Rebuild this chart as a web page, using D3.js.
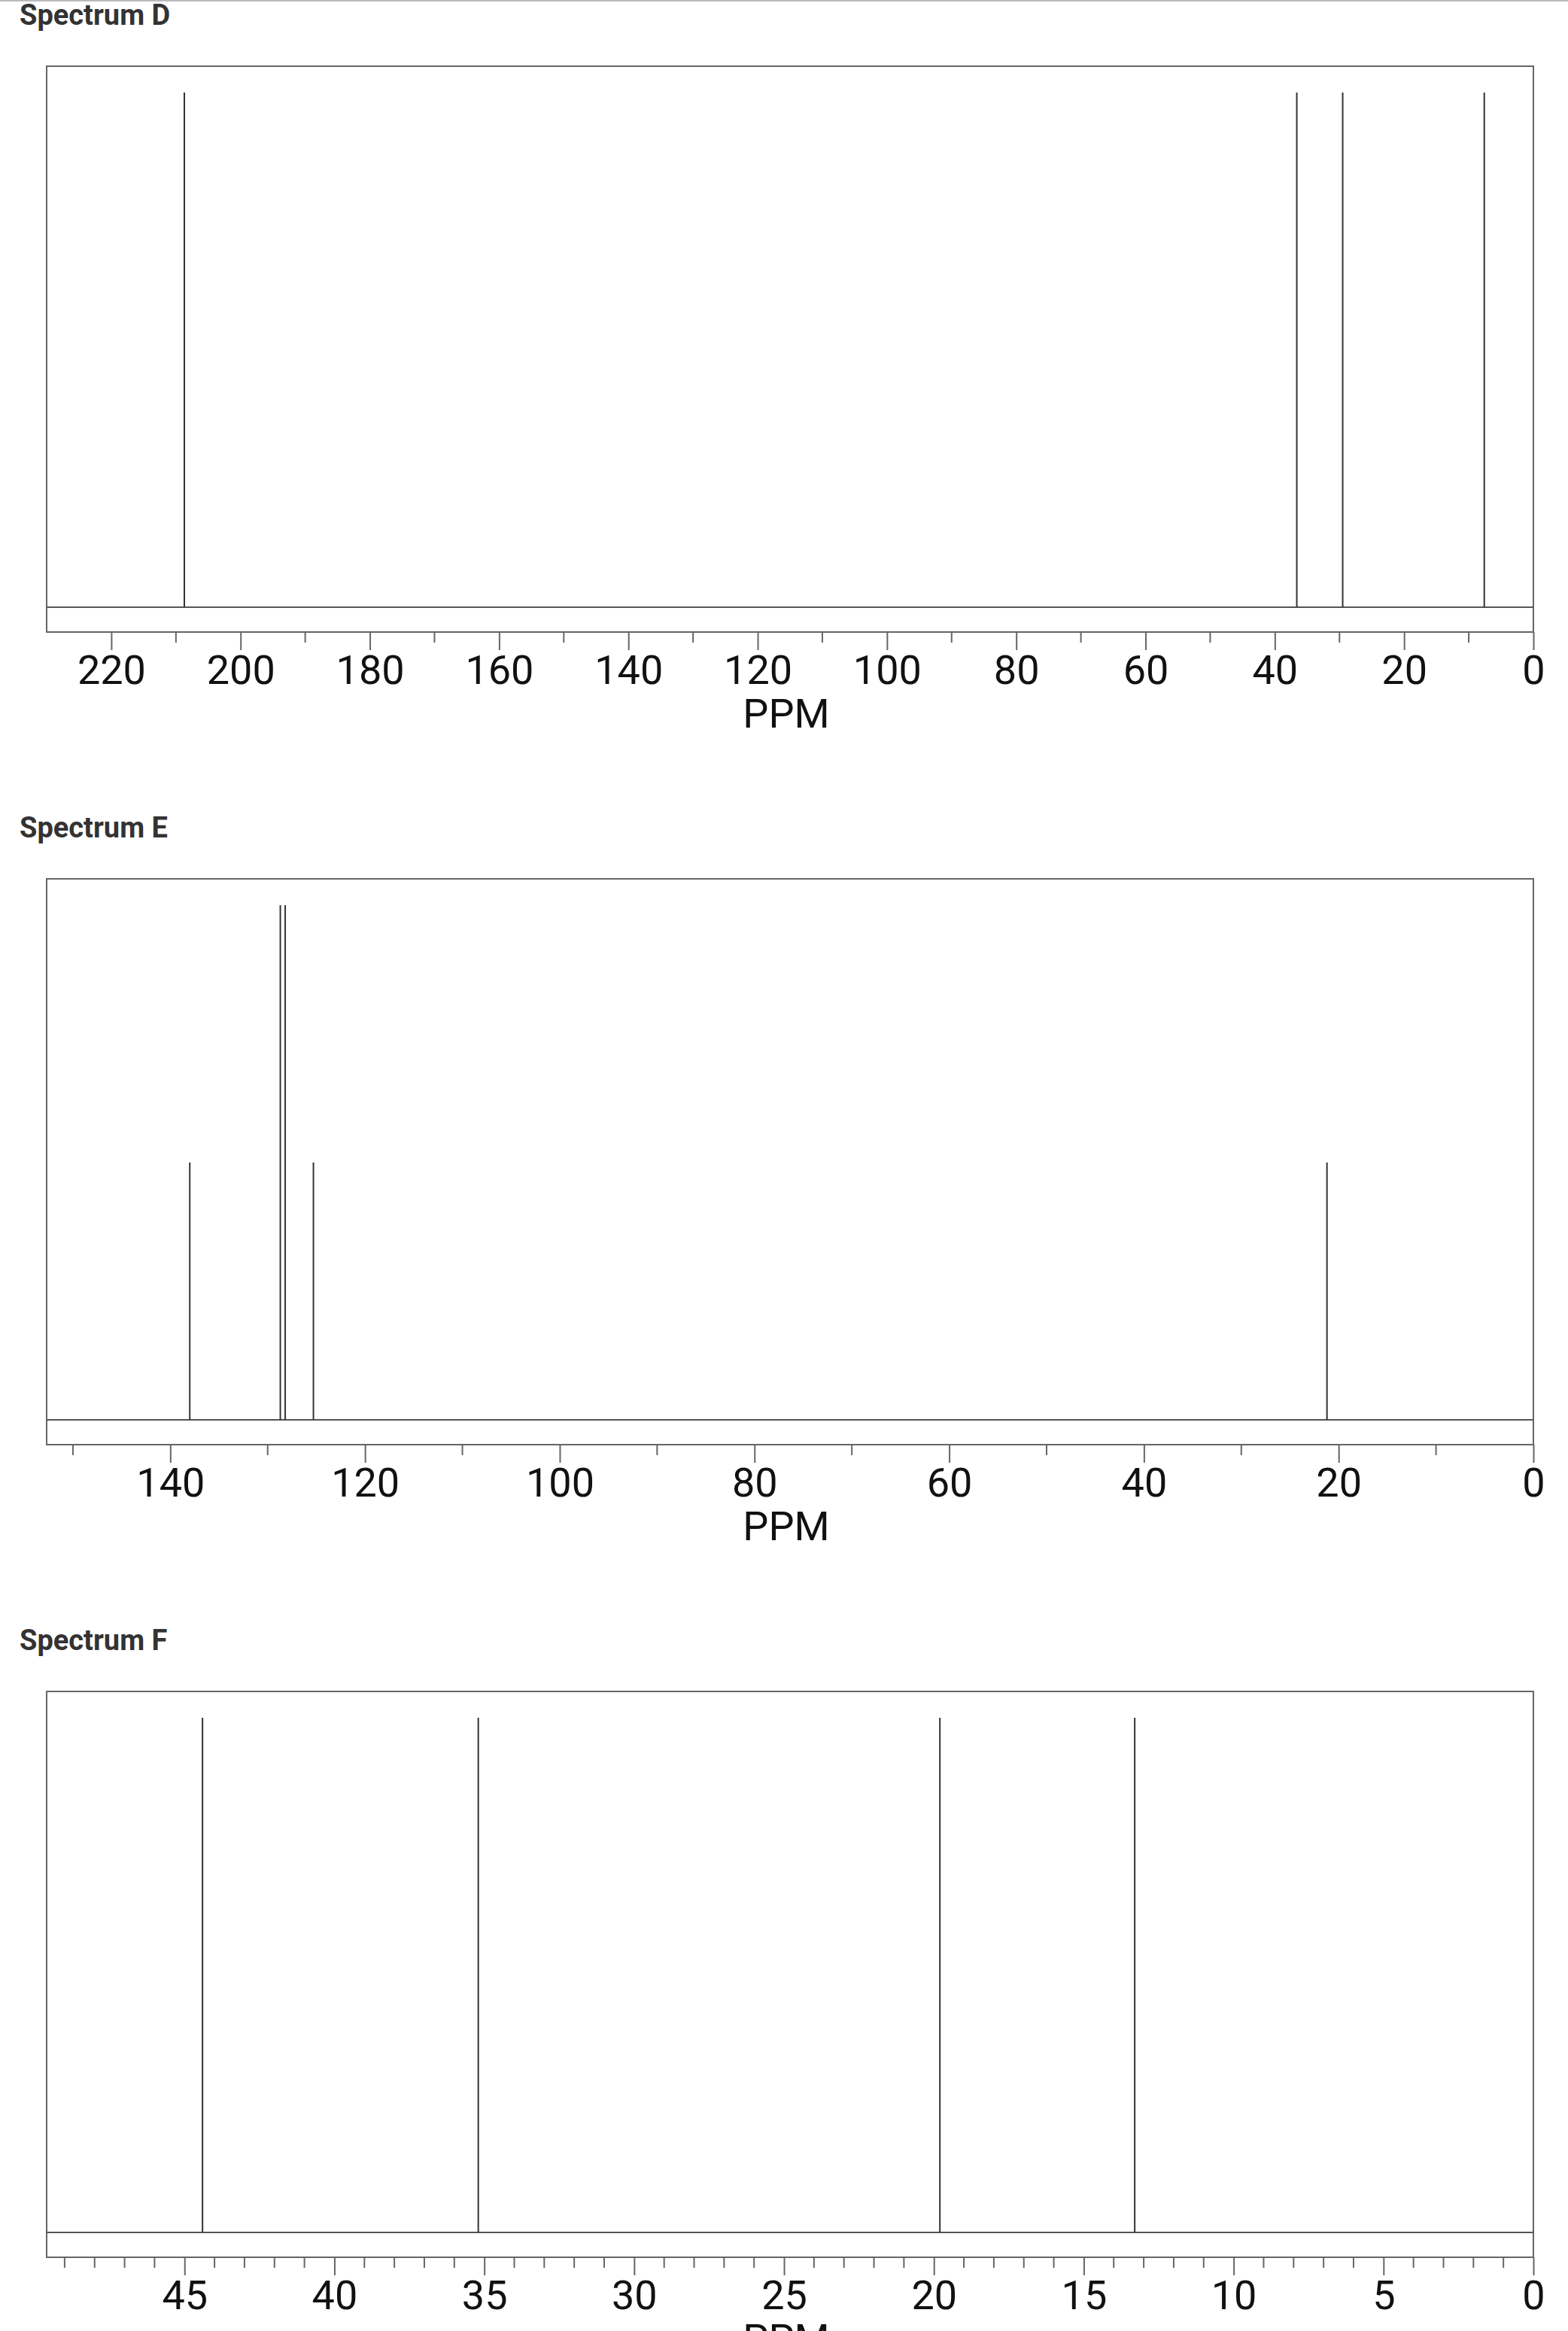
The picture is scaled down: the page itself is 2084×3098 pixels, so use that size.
<!DOCTYPE html>
<html><head><meta charset="utf-8">
<script src="https://cdn.jsdelivr.net/npm/d3@7"></script>
<style>body{margin:0;background:#fff}svg{display:block}</style>
</head><body>
<script>
const titles = ["Spectrum D","Spectrum E","Spectrum F"];
const domains = [[230,0],[152.7,0],[49.6,0]];
const majorTicks = [[220,200,180,160,140,120,100,80,60,40,20,0],[140,120,100,80,60,40,20,0],[45,40,35,30,25,20,15,10,5,0]];
const minorStep = [10,10,1];
const peaksD = [208.7,36.6,29.5,7.6];
const heightsD = [1,1,1,1];
const peaksE = [138.0,128.7,128.2,125.3,21.2];
const heightsE = [0.5,1,1,0.5,0.5];
const peaksF = [44.4,35.2,19.8,13.3];
const heightsF = [1,1,1,1];
const peaks = [peaksD,peaksE,peaksF], heights=[heightsD,heightsE,heightsF];

const W=2084,H=3098;
const svg=d3.select("body").append("svg").attr("width",W).attr("height",H);
svg.append("line").attr("x1",0).attr("x2",W).attr("y1",1).attr("y2",1).attr("stroke","#bbb").attr("stroke-width",2);
const L=62,R=2038,offs=[0,1080,2160];
titles.forEach((t,i)=>{
  const o=offs[i];
  const top=88+o, base=807+o, bot=840+o;
  const g=svg.append("g");
  g.append("text").attr("x",26).attr("y",33+o).attr("font-family","Roboto").attr("font-weight","bold").attr("font-size",38).attr("fill","#333").text(t);
  const x=d3.scaleLinear().domain(domains[i]).range([L,R]);
  const y=d3.scaleLinear().domain([0,1]).range([base,top+35]);
  g.append("rect").attr("x",L).attr("y",top).attr("width",R-L).attr("height",bot-top).attr("fill","none").attr("stroke","#666").attr("stroke-width",2);
  g.append("line").attr("x1",L).attr("x2",R).attr("y1",base).attr("y2",base).attr("stroke","#555").attr("stroke-width",2);
  const minors=d3.range(0,domains[i][0],minorStep[i]).filter(v=>!majorTicks[i].includes(v));
  g.selectAll(".mn").data(minors).enter().append("line").attr("x1",d=>x(d)).attr("x2",d=>x(d)).attr("y1",bot).attr("y2",bot+14).attr("stroke","#666").attr("stroke-width",2);
  const ax=d3.axisBottom(x).tickValues(majorTicks[i]).tickSize(24).tickFormat(d3.format("d"));
  const a=g.append("g").attr("transform",`translate(0,${bot})`).call(ax);
  a.select(".domain").remove();
  a.selectAll("line").attr("stroke","#666").attr("stroke-width",2);
  a.selectAll("text").attr("font-family","Roboto").attr("font-size",54).attr("fill","#111").attr("dy","0.95em").attr("y",18);
  g.append("text").attr("x",1045).attr("y",967+o).attr("text-anchor","middle").attr("font-family","Roboto").attr("font-size",54).attr("fill","#111").text("PPM");
  g.selectAll(".pk").data(peaks[i]).enter().append("line")
    .attr("x1",d=>x(d)).attr("x2",d=>x(d)).attr("y1",base).attr("y2",(d,j)=>y(heights[i][j]))
    .attr("stroke","#333").attr("stroke-width",2);
});
</script>
</body></html>
